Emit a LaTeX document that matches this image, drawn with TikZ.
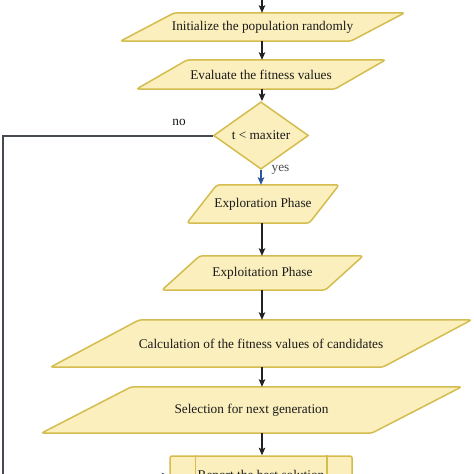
\documentclass[tikz,border=0pt]{standalone}
\usepackage{fontspec}
\setmainfont{Liberation Serif}
\usetikzlibrary{shapes.geometric,arrows.meta,calc}
\definecolor{shpfill}{HTML}{FBEFBD}
\definecolor{shpdraw}{HTML}{D4BC4E}
\definecolor{lncol}{HTML}{222222}
\definecolor{nocol}{HTML}{454B50}
\definecolor{yescol}{HTML}{2C56A0}
\definecolor{txtcol}{HTML}{1A1A1A}
\newcommand{\mypara}[7]{%
  \node[ptxt, minimum width=#4pt, minimum height=#6pt] (#1) at (#2,#3) {#7};
  \draw[shp] ([xshift=#5pt/2]#1.north west) -- ([xshift=#5pt/2]#1.north east)
    -- ([xshift=-#5pt/2]#1.south east) -- ([xshift=-#5pt/2]#1.south west) -- cycle;
  \node[ptxt, minimum width=#4pt, minimum height=#6pt] at (#1) {#7};
}
\begin{document}
\begin{tikzpicture}[x=1pt,y=-1pt,
  every node/.style={font=\fontsize{13.3}{15}\selectfont, text=txtcol},
  ptxt/.style={inner sep=0pt},
  shp/.style={draw=shpdraw, fill=shpfill, line width=1.5pt, rounded corners=3pt},
  conn/.style={draw=lncol, line width=1.3pt, -{Stealth[length=7.5pt,width=6.5pt,inset=1.5pt]}},
  yesconn/.style={draw=yescol, line width=1.3pt, -{Stealth[length=7.5pt,width=6.5pt,inset=1.5pt,fill=yescol!70!black]}},
  noconn/.style={draw=nocol, line width=2pt, -{Stealth[length=7.5pt,width=6.5pt,inset=1.5pt]}},
  lbl/.style={inner sep=0pt}]
\useasboundingbox (0,0) rectangle (474,474);
\clip (0,0) rectangle (474,474);
\fill[white] (0,0) rectangle (474,474);
\coordinate (start) at (262,-6);
\coordinate (nox) at (2.5,0);
\mypara{init}{262.5}{27}{230}{54}{28}{Initialize the population randomly}
\mypara{eval}{261}{74.5}{198}{51}{29}{Evaluate the fitness values}
\node[diamond, draw=shpdraw, fill=shpfill, line width=1.5pt, inner sep=0pt,
  minimum width=95pt, minimum height=55pt] (dec) at (261,135.5) {t < maxiter};
\mypara{explor}{263}{204}{122}{30}{38}{Exploration Phase}
\mypara{exploit}{262.5}{273}{163}{38}{34}{Exploitation Phase}
\mypara{calc}{261}{343.5}{332}{89}{47}{Calculation of the fitness values of candidates}
\mypara{sel}{251.5}{410}{330}{90}{46}{Selection for next generation}
\node[draw=shpdraw, fill=shpfill, line width=1.5pt, rounded corners=2pt, inner sep=0pt,
  minimum width=182pt, minimum height=40pt] (rep) at (261,476) {Report the best solution};
\draw[draw=shpdraw, line width=1.5pt] ([xshift=26pt]rep.north west) -- ([xshift=26pt]rep.south west);
\draw[draw=shpdraw, line width=1.5pt] ([xshift=-26pt]rep.north east) -- ([xshift=-26pt]rep.south east);
% connectors
\draw[conn] (start) -- (start |- init.north);
\draw[conn] (init.south -| start) -- (start |- eval.north);
\draw[conn] (eval.south -| start) -- (start |- dec.north);
\draw[yesconn] (dec.south) -- (dec.south |- explor.north);
\draw[conn] (explor.south -| start) -- (start |- exploit.north);
\draw[conn] (exploit.south -| start) -- (start |- calc.north);
\draw[conn] (calc.south -| start) -- (start |- sel.north);
\draw[conn] (sel.south -| start) -- (start |- rep.north);
\draw[noconn] (dec.west) -| (nox |- rep.west) -- (rep.west);
\node[lbl] (nolbl) at (179,122) {no};
\node[lbl, text=black!70] (yeslbl) at (280.5,170) {yes};
\end{tikzpicture}
\end{document}
